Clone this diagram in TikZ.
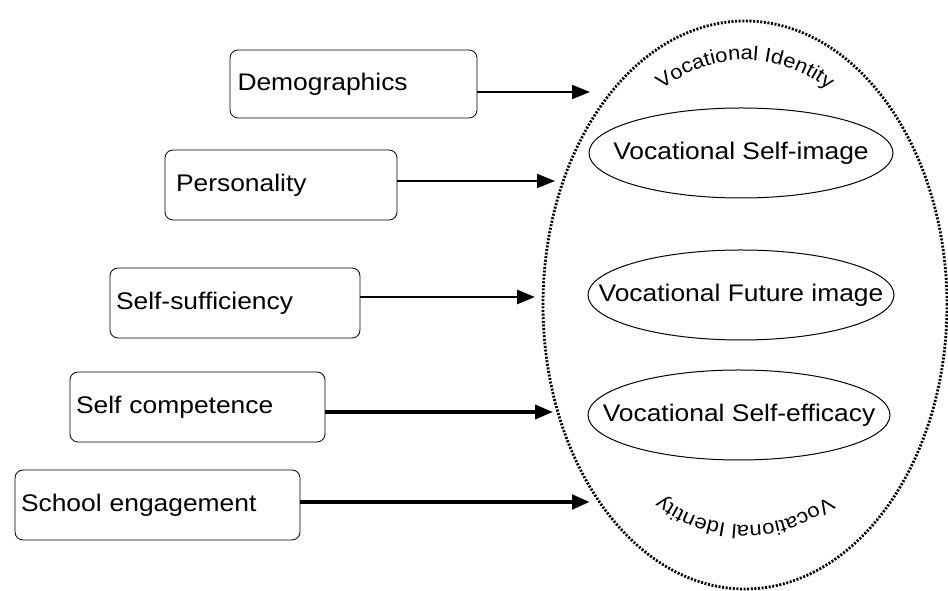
\documentclass[tikz,border=0pt]{standalone}
\usepackage{fontspec}
\setmainfont[FakeStretch=1.1]{Liberation Sans}
\usetikzlibrary{arrows.meta,decorations.text}
\begin{document}
\begin{tikzpicture}[x=1pt,y=1pt,
  box/.style={draw,rounded corners=8pt,line width=0.8pt,inner sep=0pt,align=left,font=\fontsize{24}{27}\selectfont},
  conn/.style={-{Triangle[length=18pt,width=14pt]}}]
\useasboundingbox (0,0) rectangle (948,591);
\draw[line width=2.8pt,dash pattern=on 2pt off 1.6pt] (745,286) ellipse[x radius=202,y radius=284];
\node[box,minimum width=247,minimum height=68,text width=232] (d) at (353.5,507) {Demographics};
\node[box,minimum width=232,minimum height=70,text width=210] (p) at (281,406) {Personality};
\node[box,minimum width=250,minimum height=70,text width=238] (s) at (235,288) {Self-sufficiency};
\node[box,minimum width=255,minimum height=70,text width=243] (c) at (197.5,184) {Self competence};
\node[box,minimum width=285,minimum height=70,text width=273] (e) at (157.5,86) {School engagement};
\coordinate (td) at (590,499);
\coordinate (tp) at (555,410);
\coordinate (ts) at (535,294);
\coordinate (tc) at (553,179);
\coordinate (te) at (590,89);
\draw[conn,line width=2pt] (d.east|-td) -- (td);
\draw[conn,line width=2pt] (p.east|-tp) -- (tp);
\draw[conn,line width=2.8pt] (s.east|-ts) -- (ts);
\draw[conn,line width=3.5pt] (c.east|-tc) -- (tc);
\draw[conn,line width=4.5pt] (e.east|-te) -- (te);
\draw[line width=1pt] (741,438) ellipse[x radius=152,y radius=45];
\node[font=\fontsize{24}{27}\selectfont] (i1) at (741,438) {Vocational Self-image};
\draw[line width=1pt] (741,296) ellipse[x radius=153,y radius=45];
\node[font=\fontsize{24}{27}\selectfont] (i2) at (741,296) {Vocational Future image};
\draw[line width=1pt] (739,176) ellipse[x radius=151,y radius=45];
\node[font=\fontsize{24}{27}\selectfont] (i3) at (739,176) {Vocational Self-efficacy};
\path[decorate,decoration={text along path,text align=center,text={|\fontsize{20}{24}\selectfont|Vocational Identity}}]
  (644.6,486.7) arc[start angle=125,end angle=55,x radius=175,y radius=245];
\path[decorate,decoration={text along path,text align=center,text={|\fontsize{20}{24}\selectfont|Vocational Identity}}]
  (842.5,105.8) arc[start angle=-55,end angle=-125,x radius=170,y radius=221];
\end{tikzpicture}
\end{document}
